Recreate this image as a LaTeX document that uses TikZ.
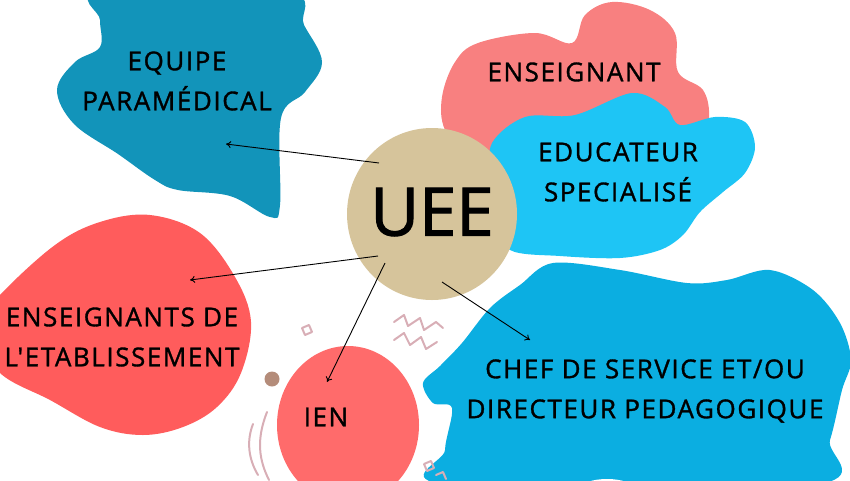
\documentclass[tikz,border=0pt]{standalone}
\usepackage{fontspec}
\setmainfont{Open Sans}
\newfontfamily\lblfont[LetterSpace=6,FakeBold=1.2]{Open Sans}
\newfontfamily\bigfont[FakeBold=1.5]{Open Sans}
\usetikzlibrary{arrows.meta}
\definecolor{cDark}{HTML}{1294BA}
\definecolor{cRed}{HTML}{FF5C5C}
\definecolor{cSalmon}{HTML}{F88080}
\definecolor{cLight}{HTML}{1EC5F5}
\definecolor{cBig}{HTML}{0BAEE1}
\definecolor{cIEN}{HTML}{FF6B6B}
\definecolor{cBeige}{HTML}{D6C49B}
\definecolor{cDeco}{HTML}{D8AEB6}
\definecolor{cDot}{HTML}{B48C7A}
\tikzset{
  lbl/.style={align=center, font=\lblfont\fontsize{26}{40}\selectfont, text=black, inner sep=0pt},
  conn/.style={draw=black, line width=0.9pt, -{To[length=5pt,width=7pt]}},
  deco/.style={draw=cDeco, line width=2pt, line cap=round, line join=round},
}
\begin{document}
\begin{tikzpicture}[x=1pt,y=-1pt]
\useasboundingbox (0,0) rectangle (850,480);
% dark blue blob
\fill[cDark] plot[smooth cycle, tension=0.6] coordinates {(102,-8) (286,-8) (304,25) (322,62) (305,92) (281,118) (280,205) (270,217) (230,196) (178,190) (155,180) (118,154) (74,124) (57,90) (75,62) (100,47) (100,20)};
% red teardrop
\fill[cRed] plot[smooth cycle, tension=0.6] coordinates {(150,215) (200,233) (235,277) (251,322) (241,373) (217,407) (183,427) (143,435) (100,427) (50,400) (0,373) (-25,330) (0,295) (55,245) (100,222)};
% salmon cloud
\fill[cSalmon] plot[smooth cycle, tension=0.6] coordinates {(442,97) (455,62) (478,43) (535,33) (572,43) (585,15) (612,2) (650,10) (675,33) (678,72) (703,90) (709,118) (700,150) (600,160) (470,160) (445,130)};
% light blue
\fill[cLight] plot[smooth cycle, tension=0.55] coordinates {(492,143) (525,117) (575,115) (632,93) (665,107) (680,125) (715,117) (745,122) (755,147) (745,173) (723,192) (700,212) (683,235) (660,250) (620,258) (560,256) (510,250) (495,220) (491,180)};
% big blue
\fill[cBig] plot[smooth cycle, tension=0.55] coordinates {(553,263) (620,270) (687,283) (727,280) (770,270) (813,290) (840,323) (851,360) (842,390) (830,440) (812,485) (450,485) (445,450) (452,408) (433,403) (423,383) (440,366) (462,343) (490,308) (520,285)};
\fill[white] (607,488) ellipse [x radius=26, y radius=9];
% IEN circle
\fill[cIEN] (348,425) ellipse [x radius=71, y radius=79];
% decorations
\draw[deco] (302,328) -- (309,325) -- (312,332) -- (305,335) -- cycle;
\draw[deco] (394,322) -- (404,315) -- (408,326) -- (420,318) -- (424,330) -- (436,322) -- (443,328);
\draw[deco] (394,340) -- (404,333) -- (410,345) -- (421,337) -- (426,349) -- (437,342);
\fill[cDot] (272,379) circle (7.5);
\draw[deco] (267,412) .. controls (256,440) and (259,460) .. (269,480);
\draw[deco] (253,424) .. controls (246,442) and (249,460) .. (258,475);
\draw[deco] (424,464) -- (431,461) -- (434,468) -- (427,471) -- cycle;
\draw[deco] (436,475) -- (443,472) -- (446,479);
% beige circle
\fill[cBeige] (432,214) ellipse [x radius=85, y radius=86];
% texts
\node[lbl] (equipe) at (177,81) {EQUIPE\\PARAMÉDICAL};
\node[lbl] (ensei) at (574,72) {ENSEIGNANT};
\node[lbl] (educ) at (618,172) {EDUCATEUR\\SPECIALISÉ};
\node[lbl] (etab) at (122,337) {ENSEIGNANTS DE\\L'ETABLISSEMENT};
\node[lbl] (ien) at (326,417) {IEN};
\node[lbl] (chef) at (645,391) {CHEF DE SERVICE ET/OU\\DIRECTEUR PEDAGOGIQUE};
\node[inner sep=0pt, font=\bigfont\fontsize{67}{67}\selectfont] (uee) at (432,212) {UEE};
% connectors
\coordinate (sA) at (379,163); \coordinate (eA) at (226,144);
\coordinate (sB) at (378,256); \coordinate (eB) at (190,280);
\coordinate (sC) at (385,263); \coordinate (eC) at (327,382);
\coordinate (sD) at (442,282); \coordinate (eD) at (530,340);
\draw[conn] (sA) -- (eA);
\draw[conn] (sB) -- (eB);
\draw[conn] (sC) -- (eC);
\draw[conn] (sD) -- (eD);
\end{tikzpicture}
\end{document}
